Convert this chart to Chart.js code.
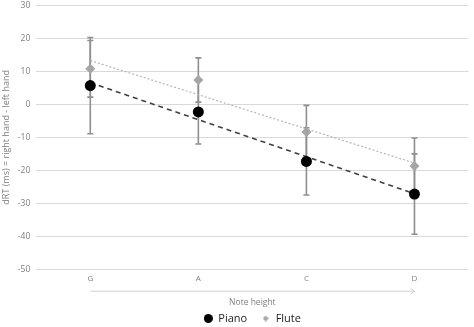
<!DOCTYPE html>
<html>
<head>
<meta charset="utf-8">
<script src="https://cdn.jsdelivr.net/npm/chart.js@4/dist/chart.umd.min.js"></script>
<style>
  html, body { margin: 0; padding: 0; background: #fff; }
  #wrap { width: 474px; height: 327px; }
</style>
</head>
<body>
<div id="wrap"><canvas id="c"></canvas></div>
<script>
// Note categories along the x axis
const notes = ['G', 'A', 'C', 'D'];

// Mean dRT (ms) per note, and the error (±) for each mean
const pianoMeans = [5.7, -2.3, -17.3, -27.2];
const pianoErrors = [14.6, 9.7, 10.2, 12.2];
const fluteMeans = [10.8, 7.4, -8.4, -18.7];
const fluteErrors = [8.6, 6.7, 8.1, 8.5];

// Linear trend lines, value at first (G) and last (D) note
const pianoTrend = [6.6, -27.1];
const fluteTrend = [13.3, -17.8];

// Y axis range and tick step
const yMin = -50, yMax = 30, yStep = 10;

const FONT = '"Open Sans", "Liberation Sans", sans-serif';

// Small legend symbols
function symbol(shape, size, color) {
  const c = document.createElement('canvas');
  c.width = size; c.height = size;
  const g = c.getContext('2d');
  g.fillStyle = color;
  const h = size / 2;
  g.beginPath();
  if (shape === 'circle') {
    g.arc(h, h, h, 0, Math.PI * 2);
  } else {
    g.moveTo(h, 0); g.lineTo(size, h); g.lineTo(h, size); g.lineTo(0, h); g.closePath();
  }
  g.fill();
  return c;
}
const pianoIcon = symbol('circle', 9, '#000000');
const fluteIcon = symbol('diamond', 6, '#a5a5a5');

// Draws vertical error bars with small caps under the markers
const errorBars = {
  id: 'errorBars',
  beforeDatasetsDraw(chart) {
    const ctx = chart.ctx;
    const y = chart.scales.y;
    ctx.save();
    ctx.strokeStyle = '#8f8f8f';
    ctx.lineWidth = 1.6;
    chart.data.datasets.forEach((ds, di) => {
      if (!ds.errors) return;
      const meta = chart.getDatasetMeta(di);
      meta.data.forEach((pt, i) => {
        const v = ds.data[i];
        const e = ds.errors[i];
        const top = y.getPixelForValue(v + e);
        const bot = y.getPixelForValue(v - e);
        ctx.beginPath();
        ctx.moveTo(pt.x, top); ctx.lineTo(pt.x, bot);
        ctx.moveTo(pt.x - 3, top); ctx.lineTo(pt.x + 3, top);
        ctx.moveTo(pt.x - 3, bot); ctx.lineTo(pt.x + 3, bot);
        ctx.stroke();
      });
    });
    ctx.restore();
  }
};

// Arrow under the category labels, spanning the first to the last note
const noteArrow = {
  id: 'noteArrow',
  afterDraw(chart) {
    const ctx = chart.ctx;
    const x = chart.scales.x;
    const x0 = x.getPixelForValue(0);
    const x1 = x.getPixelForValue(notes.length - 1);
    const yy = chart.chartArea.bottom + 22;
    ctx.save();
    ctx.strokeStyle = '#d0d0d0';
    ctx.lineWidth = 1;
    ctx.beginPath();
    ctx.moveTo(x0, yy); ctx.lineTo(x1, yy);
    ctx.moveTo(x1 - 4, yy - 3); ctx.lineTo(x1, yy); ctx.lineTo(x1 - 4, yy + 3);
    ctx.stroke();
    ctx.restore();
  }
};

new Chart(document.getElementById('c'), {
  type: 'line',
  data: {
    labels: notes,
    datasets: [
      {
        label: 'Piano',
        data: pianoMeans,
        errors: pianoErrors,
        showLine: false,
        pointStyle: 'circle',
        pointRadius: 5.5,
        pointHoverRadius: 5.5,
        backgroundColor: '#000000',
        borderColor: '#000000',
        borderWidth: 0,
        legendIcon: pianoIcon,
        order: 1
      },
      {
        label: 'Flute',
        data: fluteMeans,
        errors: fluteErrors,
        showLine: false,
        pointStyle: 'rectRot',
        pointRadius: 5,
        pointHoverRadius: 5,
        backgroundColor: '#a5a5a5',
        borderColor: '#a5a5a5',
        borderWidth: 0,
        legendIcon: fluteIcon,
        order: 2
      },
      {
        label: 'pianoTrend',
        data: [{ x: notes[0], y: pianoTrend[0] }, { x: notes[notes.length - 1], y: pianoTrend[1] }],
        borderColor: '#404040',
        borderWidth: 1.6,
        borderDash: [5, 4],
        pointRadius: 0,
        fill: false,
        order: 3
      },
      {
        label: 'fluteTrend',
        data: [{ x: notes[0], y: fluteTrend[0] }, { x: notes[notes.length - 1], y: fluteTrend[1] }],
        borderColor: '#b5b5b5',
        borderWidth: 1.2,
        borderDash: [2, 2],
        pointRadius: 0,
        fill: false,
        order: 4
      }
    ]
  },
  options: {
    responsive: true,
    maintainAspectRatio: false,
    animation: false,
    events: [],
    layout: { padding: { top: 4, right: 0, left: 1, bottom: -7 } },
    plugins: {
      tooltip: { enabled: false },
      legend: {
        position: 'bottom',
        fullSize: false,
        labels: {
          usePointStyle: true,
          boxWidth: 9,
          boxHeight: 9,
          padding: 14,
          color: '#222',
          font: { family: FONT, size: 11 },
          generateLabels(chart) {
            return chart.data.datasets.slice(0, 2).map((ds, i) => ({
              text: ds.label,
              fillStyle: ds.backgroundColor,
              strokeStyle: ds.borderColor,
              lineWidth: 0,
              pointStyle: ds.legendIcon,
              datasetIndex: i,
              fontColor: '#222'
            }));
          }
        }
      }
    },
    scales: {
      x: {
        type: 'category',
        offset: true,
        grid: { display: false, drawTicks: false },
        border: { display: false },
        ticks: { color: '#808080', font: { family: FONT, size: 8 }, padding: 5 },
        title: {
          display: true,
          text: 'Note height',
          color: '#808080',
          font: { family: FONT, size: 8.5 },
          padding: { top: 9, bottom: -9 }
        }
      },
      y: {
        min: yMin,
        max: yMax,
        grid: { color: '#d9d9d9', lineWidth: 1, drawTicks: false },
        border: { display: false },
        afterFit(scale) { scale.paddingTop = 0; },
        ticks: {
          stepSize: yStep,
          color: '#808080',
          font: { family: FONT, size: 8.5 },
          padding: 6
        },
        title: {
          display: true,
          text: 'dRT (ms) = right hand - left hand',
          color: '#808080',
          font: { family: FONT, size: 9 },
          padding: { top: 0, bottom: 0 }
        }
      }
    }
  },
  plugins: [errorBars, noteArrow]
});
</script>
</body>
</html>
